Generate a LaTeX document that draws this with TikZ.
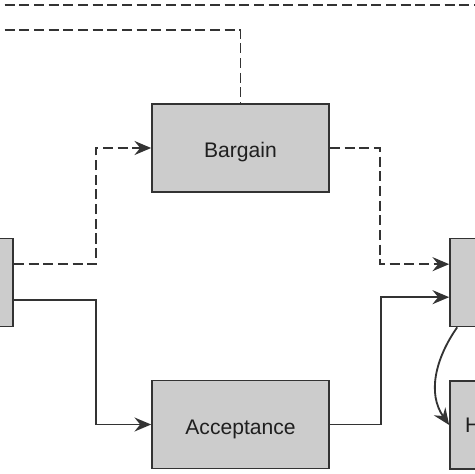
\documentclass[tikz,border=0pt]{standalone}
\usepackage{fontspec}
\setmainfont{Liberation Sans}
\usetikzlibrary{arrows.meta}

\begin{document}
\begin{tikzpicture}[x=0.3mm,y=-0.3mm,
  >={Stealth[length=5mm,width=4.2mm,inset=1.7mm]},
  box/.style={draw=black!80, fill=black!20, line width=0.5mm, minimum width=53.1mm,
    minimum height=26.4mm, inner sep=0pt, text=black!88, font=\fontsize{18}{20}\selectfont},
  link/.style={draw=black!80, line width=0.55mm},
  dlink/.style={link, dash pattern=on 3mm off 1.4mm}]
\useasboundingbox (0,0) rectangle (474,474);
\node[box] (offer) at (-75.5,282.5) {};
\node[box] (bargain) at (240.5,148) {\raisebox{-2.9mm}[0pt][0pt]{Bargain}};
\node[box] (accept) at (240.5,424.5) {\raisebox{-2.9mm}[0pt][0pt]{Acceptance}};
\node[box] (result) at (538.5,282.5) {};
\node[box, align=left, text width=44.1mm, inner xsep=4.5mm] (hold) at (538.5,425) {H};
\coordinate (backL) at (-10,5);
\coordinate (backR) at (490,5);
\coordinate (loopL) at (-10,30);
\draw[dlink] (backL) -- (backR);
\draw[dlink] (loopL) -| (bargain.north);
\draw[dlink,->] ([yshift=5.5mm]offer.east) -- ++(82,0) |- (bargain.west);
\draw[link,->] ([yshift=-5.25mm]offer.east) -- ++(82,0) |- (accept.west);
\draw[dlink,->] (bargain.east) -- ++(50,0) |- ([yshift=5.5mm]result.west);
\draw[link,->] (accept.east) -- ++(51,0) |- ([yshift=-4.4mm]result.west);
\draw[link,->] ([xshift=2.4mm]result.south west) to[out=235,in=125] (hold.west);
\end{tikzpicture}
\end{document}
